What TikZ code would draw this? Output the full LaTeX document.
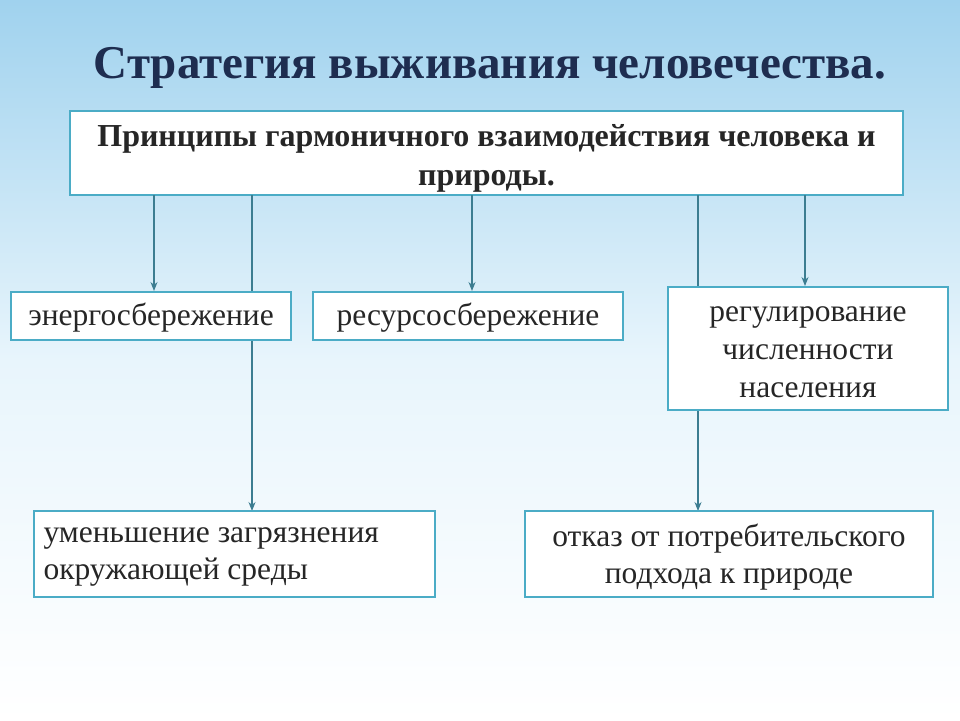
\documentclass[tikz,border=0pt]{standalone}
\usepackage{fontspec}
\setmainfont{Liberation Serif}
\usetikzlibrary{arrows.meta}
\definecolor{bord}{RGB}{75,172,198}
\definecolor{ln}{RGB}{60,125,145}
\definecolor{ttl}{RGB}{30,45,80}
\definecolor{bgtop}{RGB}{160,210,238}
\definecolor{bgmid}{RGB}{232,245,252}
\tikzset{
 box/.style={draw=bord,line width=2pt,fill=white,inner sep=0pt},
 con/.style={draw=ln,line width=1.2pt,-{Stealth[length=9pt,width=7pt]}},
 txt/.style={font=\fontsize{31.5}{37}\selectfont,align=center,text=black!85}
}
\begin{document}
\begin{tikzpicture}[x=1pt,y=-1pt]
\useasboundingbox (0,0) rectangle (960,720);
\shade[top color=bgtop,bottom color=white,middle color=bgmid] (0,0) rectangle (960,720);
\node[font=\bfseries\fontsize{47}{52}\selectfont,text=ttl] (title) at (490,68) {Стратегия выживания человечества.};
\node[box,minimum width=833,minimum height=84] (top) at (486.5,153) {};
\node[txt,font=\bfseries\fontsize{32}{39}\selectfont] at (486.5,158) {Принципы гармоничного взаимодействия человека и\\природы.};
\coordinate (t1) at (154,195); \coordinate (t2) at (252,195); \coordinate (t3) at (472,195);
\coordinate (t4) at (698,195); \coordinate (t5) at (805,195);
\coordinate (e2) at (252,511); \coordinate (e4) at (698,511);
\draw[con] (t2) -- (e2);
\draw[con] (t4) -- (e4);
\node[box,minimum width=280,minimum height=48] (en) at (151,316) {};
\node[txt] at (151,318) {энергосбережение};
\node[box,minimum width=310,minimum height=48] (res) at (468,316) {};
\node[txt] at (468,318) {ресурсосбережение};
\node[box,minimum width=280,minimum height=123] (reg) at (808,348.5) {};
\node[txt,font=\fontsize{31.5}{38}\selectfont] at (808,352) {регулирование\\численности\\населения};
\node[box,minimum width=401,minimum height=86] (um) at (234.5,554) {};
\node[txt,align=left,anchor=west] at (40,557) {уменьшение загрязнения\\окружающей среды};
\node[box,minimum width=408,minimum height=86] (ot) at (729,554) {};
\node[txt] at (729,557) {отказ от потребительского\\подхода к природе};
\draw[con] (t1) -- (t1 |- en.north);
\draw[con] (t3) -- (t3 |- res.north);
\draw[con] (t5) -- (t5 |- reg.north);
\end{tikzpicture}
\end{document}
